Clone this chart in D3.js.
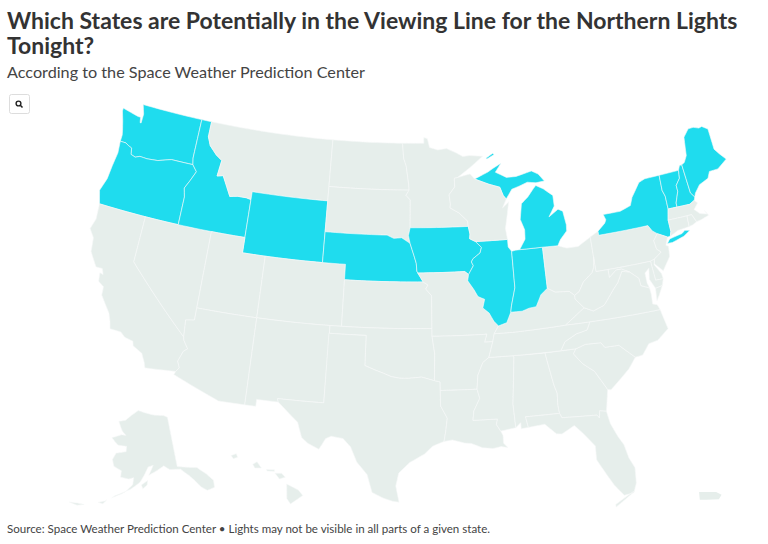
<!DOCTYPE html>
<html>
<head>
<meta charset="utf-8">
<script src="https://cdn.jsdelivr.net/npm/d3@7"></script>
<style>
  body { margin: 0; background: #fff; }
  svg { display: block; font-family: Lato, "Noto Sans", sans-serif; }
</style>
</head>
<body>
<svg id="chart" width="768" height="544"></svg>
<script>
const titleLines = ['Which States are Potentially in the Viewing Line for the Northern Lights', 'Tonight?'];
const subtitle = 'According to the Space Weather Prediction Center';
const source = 'Source: Space Weather Prediction Center • Lights may not be visible in all parts of a given state.';

// states in the viewing line
const viewingStates = ['WA', 'OR', 'ID', 'WY', 'NE', 'IA', 'IL', 'IN', 'MI', 'NY', 'VT', 'NH', 'ME'];

// rough state outlines, lon/lat
const WA = [[[-124.7,48.4],[-123.1,48.15],[-122.85,48.15],[-122.75,47.8],[-122.65,47.8],[-122.65,48.4],[-122.95,49],[-117.03,49],[-117.04,46.42],[-116.92,46],[-118.98,46],[-119.3,45.93],[-120.2,45.72],[-121.2,45.65],[-121.9,45.68],[-122.3,45.55],[-122.75,45.65],[-122.85,46.05],[-123.2,46.15],[-123.5,46.27],[-124.05,46.27],[-124.05,46.7],[-124.15,47],[-124.4,47.6],[-124.7,48.2]]];
const OR = [[[-124.05,46.27],[-123.95,45.5],[-124.1,44.6],[-124.2,43.7],[-124.55,42.84],[-124.2,42],[-117.03,42],[-117.03,43.83],[-117.22,44.4],[-116.85,44.95],[-116.46,45.6],[-116.92,46],[-118.98,46],[-119.3,45.93],[-120.2,45.72],[-121.2,45.65],[-121.9,45.68],[-122.3,45.55],[-122.75,45.65],[-122.85,46.05],[-123.2,46.15],[-123.5,46.27]]];
const CA = [[[-124.2,42],[-120,42],[-120,39],[-114.63,35],[-114.57,34.8],[-114.14,34.3],[-114.43,34.1],[-114.72,33.4],[-114.5,33],[-114.72,32.72],[-117.12,32.53],[-117.25,32.85],[-117.6,33.4],[-118.4,33.75],[-118.5,34.03],[-119.2,34.15],[-119.6,34.42],[-120.5,34.45],[-120.65,34.9],[-120.9,35.4],[-121.85,36.4],[-121.9,36.95],[-122.4,37.2],[-122.5,37.75],[-122.2,37.7],[-122.4,38.05],[-122.95,38.05],[-123.7,38.9],[-123.85,39.8],[-124.35,40.3],[-124.1,41]]];
const NV = [[[-120,42],[-114.04,42],[-114.04,36.2],[-114.74,36.1],[-114.63,35],[-120,39]]];
const ID = [[[-117.03,49],[-116.05,49],[-116.05,48],[-115.7,47.45],[-114.95,46.93],[-114.35,46.65],[-114.5,45.6],[-113.95,45.7],[-113.45,45.05],[-113,44.45],[-112.3,44.55],[-111.5,44.55],[-111.05,44.48],[-111.05,42],[-117.03,42],[-117.03,43.83],[-117.22,44.4],[-116.85,44.95],[-116.46,45.6],[-116.92,46],[-117.04,46.42]]];
const MT = [[[-116.05,49],[-104.05,49],[-104.05,45],[-111.05,45],[-111.05,44.48],[-111.5,44.55],[-112.3,44.55],[-113,44.45],[-113.45,45.05],[-113.95,45.7],[-114.5,45.6],[-114.35,46.65],[-114.95,46.93],[-115.7,47.45],[-116.05,48]]];
const WY = [[[-111.05,45],[-104.05,45],[-104.05,41],[-111.05,41]]];
const UT = [[[-114.04,42],[-111.05,42],[-111.05,41],[-109.05,41],[-109.05,37],[-114.04,37]]];
const CO = [[[-109.05,41],[-102.05,41],[-102.05,37],[-109.05,37]]];
const AZ = [[[-114.04,37],[-109.05,37],[-109.05,31.33],[-111.07,31.33],[-114.81,32.5],[-114.72,32.72],[-114.5,33],[-114.72,33.4],[-114.43,34.1],[-114.14,34.3],[-114.57,34.8],[-114.63,35],[-114.74,36.1],[-114.04,36.2]]];
const NM = [[[-109.05,37],[-103,37],[-103.04,32],[-106.62,32],[-106.53,31.78],[-108.2,31.78],[-108.2,31.33],[-109.05,31.33]]];
const ND = [[[-104.05,49],[-97.23,49],[-97.1,48],[-96.85,47.5],[-96.6,46.3],[-96.56,45.94],[-104.05,45.94]]];
const SD = [[[-104.05,45.94],[-96.56,45.94],[-96.85,45.6],[-96.45,45.3],[-96.45,43.5],[-96.6,43],[-96.45,42.49],[-97.2,42.85],[-97.9,42.8],[-98.5,43],[-104.05,43]]];
const NE = [[[-104.05,43],[-98.5,43],[-97.9,42.8],[-97.2,42.85],[-96.45,42.49],[-96.1,41.7],[-95.9,41.2],[-95.85,40.7],[-95.77,40.58],[-95.31,40],[-102.05,40],[-102.05,41],[-104.05,41]]];
const KS = [[[-102.05,40],[-95.31,40],[-94.9,39.8],[-95.1,39.55],[-94.61,39.11],[-94.62,37],[-102.05,37]]];
const OK = [[[-103,37],[-94.62,37],[-94.62,36.5],[-94.43,35.4],[-94.48,33.64],[-95.5,33.88],[-96.5,33.8],[-97.2,33.8],[-97.9,33.9],[-98.5,34.1],[-99.2,34.3],[-100,34.56],[-100,36.5],[-103,36.5]]];
const TX = [[[-103.04,36.5],[-100,36.5],[-100,34.56],[-99.2,34.3],[-98.5,34.1],[-97.9,33.9],[-97.2,33.8],[-96.5,33.8],[-95.5,33.88],[-94.48,33.64],[-94.04,33.55],[-94.04,32],[-93.55,31.2],[-93.7,30.3],[-93.84,29.7],[-94.7,29.4],[-95.3,28.9],[-96.4,28.35],[-97.2,27.65],[-97.4,26.8],[-97.15,25.75],[-97.6,25.8],[-98.3,26],[-99.1,26.35],[-99.5,27.5],[-100.3,28.3],[-100.8,29.25],[-101.4,29.77],[-102.3,29.88],[-102.7,29.7],[-103.15,28.98],[-104,29.3],[-104.5,29.65],[-104.9,30.6],[-106,31.4],[-106.53,31.78],[-106.62,32],[-103.04,32]]];
const MN = [[[-97.23,49],[-95.15,49],[-95.15,49.38],[-94.8,49.3],[-94.6,48.72],[-93.8,48.55],[-92.95,48.62],[-92,48.3],[-91.4,48.06],[-90.75,48.1],[-89.5,48],[-90.8,47.3],[-92,46.7],[-92.3,46.66],[-92.3,46.1],[-92.85,45.6],[-92.75,45],[-92.8,44.75],[-92,44.4],[-91.25,43.85],[-91.22,43.5],[-96.45,43.5],[-96.45,45.3],[-96.85,45.6],[-96.56,45.94],[-96.6,46.3],[-96.85,47.5],[-97.1,48]]];
const IA = [[[-96.45,43.5],[-91.22,43.5],[-91.1,43],[-91.15,42.7],[-90.65,42.5],[-90.15,42.1],[-90.3,41.75],[-90.95,41.4],[-91.1,41.2],[-90.95,40.95],[-91.4,40.4],[-91.72,40.6],[-95.77,40.58],[-95.85,40.7],[-95.9,41.2],[-96.1,41.7],[-96.45,42.49],[-96.6,43]]];
const MO = [[[-95.77,40.58],[-91.72,40.6],[-91.4,40.4],[-91.5,40],[-91,39.4],[-90.7,38.95],[-90.15,38.75],[-90.35,38.2],[-89.85,37.85],[-89.5,37.3],[-89.15,36.98],[-89.55,36.5],[-89.7,36],[-90.37,36],[-90.15,36.5],[-94.62,36.5],[-94.62,37],[-94.61,39.11],[-95.1,39.55],[-94.9,39.8],[-95.31,40]]];
const AR = [[[-94.62,36.5],[-90.15,36.5],[-90.37,36],[-89.7,36],[-90.1,35],[-90.6,34.7],[-91.05,33.9],[-91.17,33],[-94.04,33],[-94.04,33.55],[-94.48,33.64],[-94.43,35.4]]];
const LA = [[[-94.04,33],[-91.17,33],[-91,32.4],[-91.5,31.6],[-91.6,31],[-89.73,31],[-89.85,30.65],[-89.55,30.2],[-89.4,29.9],[-89.4,29.4],[-89.1,29.1],[-89.6,29.2],[-90.2,29.1],[-91,29.2],[-91.8,29.5],[-92.3,29.55],[-93.2,29.78],[-93.84,29.7],[-93.7,30.3],[-93.55,31.2],[-94.04,32]]];
const MS = [[[-90.1,35],[-88.2,35],[-88.1,34.9],[-88.47,31.9],[-88.4,30.35],[-89.55,30.2],[-89.85,30.65],[-89.73,31],[-91.6,31],[-91.5,31.6],[-91,32.4],[-91.17,33],[-91.05,33.9],[-90.6,34.7]]];
const AL = [[[-88.2,35],[-85.6,34.98],[-85.18,32.87],[-85,32.3],[-85.05,31.55],[-85,31],[-87.6,31],[-87.45,30.3],[-88,30.25],[-88,30.65],[-88.4,30.35],[-88.47,31.9],[-88.1,34.9]]];
const GA = [[[-85.6,34.98],[-83.1,35],[-83.35,34.7],[-82.75,34],[-81.9,33.4],[-81.4,32.6],[-81.1,32.1],[-81.45,30.72],[-81.95,30.82],[-82.05,30.36],[-82.2,30.57],[-84.86,30.7],[-85,31],[-85.05,31.55],[-85,32.3],[-85.18,32.87]]];
const FL = [
  [[-87.6,31],[-85,31],[-84.86,30.7],[-82.2,30.57],[-82.05,30.36],[-81.95,30.82],[-81.45,30.72],[-81.3,29.9],[-80.9,29],[-80.55,28.4],[-80.35,27.5],[-80.03,26.8],[-80.12,25.8],[-80.4,25.2],[-81.1,25.13],[-81.7,25.9],[-82.1,26.6],[-82.7,27.7],[-82.65,28.6],[-83.4,29.5],[-84,30.1],[-85,29.65],[-85.4,29.7],[-86.2,30.4],[-87.45,30.3]],
  [[-80.3,25.3],[-81.8,24.45],[-81.8,24.62],[-80.5,25.25]]
];
const SC = [[[-83.1,35],[-82.3,35.2],[-81.05,35.15],[-80.8,34.82],[-79.67,34.8],[-78.55,33.86],[-79.2,33.2],[-79.9,32.7],[-80.85,32.05],[-81.1,32.1],[-81.4,32.6],[-81.9,33.4],[-82.75,34],[-83.35,34.7]]];
const NC = [[[-84.32,35],[-83.1,35],[-82.3,35.2],[-81.05,35.15],[-80.8,34.82],[-79.67,34.8],[-78.55,33.86],[-77.95,33.9],[-77.3,34.55],[-76.55,34.65],[-75.55,35.25],[-75.85,36.55],[-81.68,36.59],[-82,36.1],[-82.9,35.95],[-83.9,35.55]]];
const TN = [[[-90.1,35],[-89.7,36],[-89.55,36.5],[-88.05,36.5],[-83.68,36.6],[-81.68,36.59],[-82,36.1],[-82.9,35.95],[-83.9,35.55],[-84.32,35]]];
const KY = [[[-89.55,36.5],[-88.05,36.5],[-83.68,36.6],[-81.97,37.54],[-82.6,38.17],[-82.6,38.42],[-83,38.72],[-84.2,38.8],[-84.8,39.1],[-85.4,38.73],[-85.9,38],[-86.5,37.95],[-87.1,37.8],[-88.05,37.8],[-88.45,37.15],[-89.15,36.98]]];
const IL = [[[-87.8,42.49],[-90.65,42.5],[-90.15,42.1],[-90.3,41.75],[-90.95,41.4],[-91.1,41.2],[-90.95,40.95],[-91.4,40.4],[-91.5,40],[-91,39.4],[-90.7,38.95],[-90.15,38.75],[-90.35,38.2],[-89.85,37.85],[-89.5,37.3],[-89.15,36.98],[-88.45,37.15],[-88.05,37.8],[-87.95,38.2],[-87.53,39.35],[-87.53,41.7],[-87.8,42]]];
const IN = [[[-87.53,41.7],[-87.2,41.75],[-86.82,41.76],[-84.8,41.76],[-84.8,39.1],[-85.4,38.73],[-85.9,38],[-86.5,37.95],[-87.1,37.8],[-88.05,37.8],[-87.95,38.2],[-87.53,39.35]]];
const OH = [[[-84.8,41.76],[-83.45,41.73],[-82.7,41.5],[-81.7,41.5],[-80.52,41.98],[-80.52,40.64],[-80.65,40],[-80.85,39.7],[-81.7,39.2],[-82.2,38.6],[-82.6,38.42],[-83,38.72],[-84.2,38.8],[-84.8,39.1]]];
const MI = [
  [[-86.82,41.76],[-84.8,41.76],[-83.45,41.73],[-83.15,42.1],[-82.5,42.6],[-82.45,43],[-82.6,43.9],[-83,44.07],[-83.9,43.65],[-83.3,44.3],[-83.3,45],[-84.1,45.5],[-84.75,45.78],[-85,45.6],[-85.6,45.1],[-86.25,44.7],[-86.5,43.7],[-86.2,43],[-86.25,42.4]],
  [[-90.4,46.55],[-89.1,46.95],[-88.5,47.2],[-87.8,47.45],[-88.4,46.9],[-87.4,46.5],[-86.5,46.5],[-85,46.75],[-84.4,46.5],[-83.9,46],[-84.7,45.95],[-85.5,46.05],[-86.3,45.85],[-87,45.7],[-87.6,45.1],[-87.85,45.35],[-88.1,45.9],[-89.1,46.15]],
  [[-89.2,47.85],[-88.5,48.15],[-88.4,48.05],[-89.1,47.8]]
];
const WI = [[[-92.3,46.66],[-92,46.7],[-90.8,46.9],[-90.4,46.55],[-89.1,46.15],[-88.1,45.9],[-87.85,45.35],[-87.6,45.1],[-88,44.55],[-87.4,44.9],[-87.6,44.2],[-87.9,43.2],[-87.8,42.49],[-90.65,42.5],[-91.15,42.7],[-91.1,43],[-91.22,43.5],[-91.25,43.85],[-92,44.4],[-92.8,44.75],[-92.75,45],[-92.85,45.6],[-92.3,46.1]]];
const PA = [[[-80.52,41.98],[-79.76,42.27],[-79.76,42],[-75.35,42],[-75.07,41.6],[-74.7,41.36],[-75.13,40.97],[-75.05,40.4],[-74.72,40.15],[-75.42,39.8],[-75.79,39.72],[-80.52,39.72],[-80.52,40.64]]];
const NY = [
  [[-79.76,42.27],[-79.05,42.7],[-78.9,42.9],[-79.05,43.27],[-77.5,43.27],[-76.5,43.5],[-76.2,44],[-75.3,44.85],[-74.7,45],[-73.34,45.01],[-73.4,44],[-73.25,43.6],[-73.27,42.75],[-73.5,42.05],[-73.5,41.3],[-73.65,41],[-73.9,41],[-74.7,41.36],[-75.07,41.6],[-75.35,42],[-79.76,42]],
  [[-74.03,40.6],[-73.75,40.85],[-72.6,41],[-72.3,41.15],[-71.87,41.07],[-72.5,40.8],[-73.6,40.58]]
];
const VT = [[[-73.34,45.01],[-71.5,45.01],[-71.6,44.5],[-72.05,44.1],[-72.05,43.7],[-72.45,43],[-72.46,42.73],[-73.27,42.75],[-73.25,43.6],[-73.4,44]]];
const NH = [[[-71.5,45.01],[-71.3,45.3],[-71.08,45.3],[-70.98,43.4],[-70.7,43.07],[-70.82,42.87],[-71.3,42.7],[-72.46,42.73],[-72.45,43],[-72.05,43.7],[-72.05,44.1],[-71.6,44.5]]];
const ME = [[[-71.08,45.3],[-70.8,45.4],[-70.45,45.8],[-70.35,46.3],[-70.2,47],[-69.6,47.45],[-69.1,47.45],[-68.6,47.3],[-68.3,47.35],[-67.8,47.07],[-67.8,45.7],[-67.45,45.3],[-67,44.85],[-68,44.4],[-68.8,44.4],[-69.1,44],[-70,43.75],[-70.55,43.3],[-70.7,43.07],[-70.98,43.4]]];
const MA = [[[-73.5,42.05],[-73.27,42.75],[-72.46,42.73],[-71.3,42.7],[-70.82,42.87],[-70.6,42.65],[-71.05,42.3],[-70.65,41.95],[-70.05,41.8],[-70.2,42.07],[-69.95,41.7],[-70.65,41.55],[-71.12,41.5],[-71.38,42.02],[-71.8,42.02]]];
const CT = [[[-73.5,42.05],[-71.8,42.02],[-71.85,41.32],[-72.9,41.25],[-73.65,41],[-73.5,41.3]]];
const RI = [[[-71.8,42.02],[-71.38,42.02],[-71.12,41.5],[-71.5,41.37],[-71.85,41.32]]];
const NJ = [[[-74.7,41.36],[-73.9,41],[-74.2,40.5],[-74,40.4],[-74.1,39.75],[-74.9,38.95],[-75.5,39.5],[-75.42,39.8],[-74.72,40.15],[-75.05,40.4],[-75.13,40.97]]];
const DE = [[[-75.79,39.72],[-75.42,39.8],[-75.55,39.45],[-75.1,38.8],[-75.05,38.45],[-75.7,38.46]]];
const MD = [[[-79.48,39.72],[-75.79,39.72],[-75.7,38.46],[-75.05,38.45],[-75.25,38.03],[-75.85,37.95],[-76.2,38.6],[-76.05,39.3],[-76.45,39.05],[-76.45,38.4],[-76.33,38.05],[-77,38.3],[-77.05,38.8],[-77.72,39.32],[-78.35,39.6],[-78.8,39.6],[-79.48,39.2]]];
const VA = [
  [[-83.68,36.6],[-81.68,36.59],[-75.85,36.55],[-76,36.9],[-76.35,37],[-76.3,37.6],[-76.33,38.05],[-77,38.3],[-77.05,38.8],[-77.72,39.32],[-78.35,39.45],[-78.87,38.77],[-79.3,38.42],[-80.3,37.5],[-81.25,37.25],[-81.97,37.54]],
  [[-75.25,38.03],[-75.85,37.95],[-75.95,37.15],[-75.65,37.5]]
];
const WV = [[[-80.52,40.64],[-80.52,39.72],[-79.48,39.72],[-79.48,39.2],[-78.8,39.6],[-78.35,39.6],[-77.72,39.32],[-78.35,39.45],[-78.87,38.77],[-79.3,38.42],[-80.3,37.5],[-81.25,37.25],[-81.97,37.54],[-82.6,38.17],[-82.6,38.42],[-82.2,38.6],[-81.7,39.2],[-80.85,39.7],[-80.65,40]]];
const AK = [
  [[-141,69.65],[-143,70.1],[-148,70.4],[-152,70.85],[-156.6,71.35],[-160,70.4],[-163,69.3],[-166.3,68.9],[-163.8,67.2],[-161.9,66.5],[-164,66.5],[-168,65.65],[-164.8,64.5],[-161,64.5],[-161,63.5],[-165,63],[-166,61.7],[-165,60.5],[-162,59.9],[-162,58.7],[-159,58.5],[-157.3,58.8],[-157.5,57.5],[-160,56],[-164,54.7],[-163,55.2],[-158,56.7],[-155,58],[-153.5,59.3],[-152,60.8],[-150,61.1],[-151.8,59.3],[-149,60],[-146,60.8],[-144,60],[-140,59.7],[-137.5,58.2],[-136,57],[-134.5,55.5],[-133,54.6],[-130.5,54.7],[-130,56],[-131.5,57.5],[-134,59.2],[-136.5,59.6],[-141,60.3]],
  [[-154.5,57.5],[-152.3,58.3],[-152.5,57.5],[-154,56.8]],
  [[-168,53.4],[-166,53.9],[-165.5,54.1],[-166.5,53.3]],
  [[-176.5,52],[-174,52.3],[-172,52.4],[-174,51.9]]
];
const HI = [
  [[-155.9,20.25],[-155.1,19.85],[-154.8,19.5],[-155.65,18.95],[-155.9,19.3]],
  [[-156.7,20.95],[-156.25,20.95],[-156,20.7],[-156.4,20.58]],
  [[-157.3,21.2],[-156.75,21.18],[-156.75,21.08],[-157.25,21.1]],
  [[-158.25,21.55],[-157.95,21.7],[-157.65,21.3],[-158.1,21.3]],
  [[-159.75,22.1],[-159.4,22.23],[-159.3,22],[-159.6,21.9]]
];
const PR = [[[-67.25,18.5],[-66,18.5],[-65.6,18.3],[-65.8,18],[-67.2,17.95]]];

const stateShapes = { WA, OR, CA, NV, ID, MT, WY, UT, CO, AZ, NM, ND, SD, NE, KS, OK, TX, MN, IA, MO, AR, LA, MS, AL, GA, FL, SC, NC, TN, KY, IL, IN, OH, MI, WI, PA, NY, VT, NH, ME, MA, CT, RI, NJ, DE, MD, VA, WV, AK, HI };

const svg = d3.select('#chart');

svg.append('text')
  .attr('fill', '#333')
  .attr('font-size', 23)
  .attr('font-weight', 700)
  .selectAll('tspan')
  .data(titleLines)
  .join('tspan')
  .attr('x', 7)
  .attr('y', (d, i) => 29 + i * 25)
  .text(d => d);

svg.append('text')
  .attr('x', 7)
  .attr('y', 78)
  .attr('fill', '#444')
  .attr('font-size', 16.2)
  .text(subtitle);

svg.append('text')
  .attr('x', 7)
  .attr('y', 533)
  .attr('fill', '#444')
  .attr('font-size', 12.2)
  .attr('textLength', 483)
  .attr('lengthAdjust', 'spacingAndGlyphs')
  .text(source);

// zoom button
const zoomButton = svg.append('g').attr('transform', 'translate(9.5, 94.5)');
zoomButton.append('rect')
  .attr('width', 20)
  .attr('height', 19)
  .attr('rx', 2)
  .attr('fill', '#fff')
  .attr('stroke', '#ddd');
zoomButton.append('circle')
  .attr('cx', 9)
  .attr('cy', 9)
  .attr('r', 2.4)
  .attr('fill', 'none')
  .attr('stroke', '#222')
  .attr('stroke-width', 1.4);
zoomButton.append('line')
  .attr('x1', 10.8)
  .attr('y1', 10.8)
  .attr('x2', 13)
  .attr('y2', 13)
  .attr('stroke', '#222')
  .attr('stroke-width', 1.6);

// straight lon/lat edges need extra points, borders follow parallels
function densify(ring) {
  const out = [];
  ring.forEach((p, i) => {
    const q = ring[(i + 1) % ring.length];
    const n = Math.ceil(Math.max(Math.abs(q[0] - p[0]), Math.abs(q[1] - p[1])) / 0.5);
    d3.range(n).forEach(k => out.push([p[0] + (q[0] - p[0]) * k / n, p[1] + (q[1] - p[1]) * k / n]));
  });
  out.push(out[0]);
  // d3 wants clockwise rings
  return d3.polygonArea(out) < 0 ? out.reverse() : out;
}

function toFeature(id, rings) {
  return {
    type: 'Feature',
    id,
    geometry: { type: 'MultiPolygon', coordinates: rings.map(r => [densify(r)]) },
  };
}

const features = Object.keys(stateShapes).map(id => toFeature(id, stateShapes[id]));

const projection = d3.geoAlbersUsa().scale(882).translate([408, 302.2]);
const path = d3.geoPath(projection);

const prProjection = d3.geoMercator().center([-66.45, 18.22]).scale(780).translate([710, 496]);
const prPath = d3.geoPath(prProjection);

const fillFor = d => (viewingStates.includes(d.id) ? '#1fdcee' : '#e6eeeb');

svg.append('g')
  .selectAll('path')
  .data(features)
  .join('path')
  .attr('d', path)
  .attr('fill', fillFor)
  .attr('stroke', '#f6f9f8')
  .attr('stroke-width', 0.6)
  .attr('stroke-linejoin', 'round');

svg.append('path')
  .datum(toFeature('PR', PR))
  .attr('d', prPath)
  .attr('fill', fillFor);
</script>
</body>
</html>
